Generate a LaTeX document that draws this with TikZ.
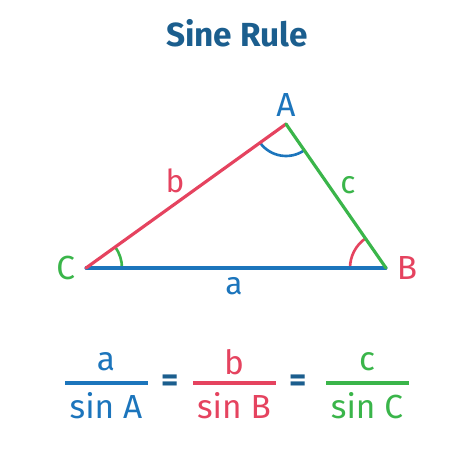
\documentclass[tikz,border=0pt]{standalone}
\usepackage{fontspec}
\setmainfont{Fira Sans}
\usepackage{xcolor}
\usetikzlibrary{positioning, angles, calc}
\definecolor{ruleTitle}{HTML}{1B5E8E}
\definecolor{ruleBlue}{HTML}{1C75BC}
\definecolor{ruleRed}{HTML}{E5435F}
\definecolor{ruleGreen}{HTML}{3AB54A}

\begin{document}
\begin{tikzpicture}[x=0.02cm, y=0.02cm, node distance=2pt]
        % Styles
        \tikzstyle{vertex} = [font=\fontsize{19}{22}\selectfont, inner sep=1pt]
        \tikzstyle{side} = [line width=1.8pt, line cap=round]
        \tikzstyle{sidelabel} = [font=\fontsize{18}{21}\selectfont, inner sep=1pt]
        \tikzstyle{anglemark} = [draw, line width=1.5pt, angle radius=0.72cm]
        \tikzstyle{term} = [font=\fontsize{19}{22}\selectfont, inner sep=1pt]
        \tikzstyle{bar} = [line width=1.8pt]

        \useasboundingbox (0,0) rectangle (474,474);

        % Title
        \node (title) [font=\bfseries\fontsize{19}{23}\selectfont, text=ruleTitle] at (237,441) {Sine Rule};

        % Triangle corners
        \coordinate (A) at (286,350);
        \coordinate (B) at (386,206);
        \coordinate (C) at (86,206);

        % Angle marks
        \pic [anglemark, ruleBlue, angle radius=0.64cm] {angle = C--A--B};
        \pic [anglemark, ruleRed] {angle = A--B--C};
        \pic [anglemark, ruleGreen] {angle = B--C--A};

        % Sides
        \draw [side, ruleBlue] (C) -- (B);
        \draw [side, ruleRed] (C) -- (A);
        \draw [side, ruleGreen] (A) -- (B);

        % Corner labels
        \node (lA) [vertex, text=ruleBlue, above=3pt of A] {A};
        \node (lB) [vertex, text=ruleRed, right=5pt of B] {B};
        \node (lC) [vertex, text=ruleGreen, left=5pt of C] {C};

        % Side labels
        \node (la) [sidelabel, text=ruleBlue] at (234,188) {a};
        \node (lb) [sidelabel, text=ruleRed] at (175,293) {b};
        \node (lc) [sidelabel, text=ruleGreen] at (348,289) {c};

        % Formula
        \node (na) [term, text=ruleBlue] at (106,112) {a};
        \node (da) [term, text=ruleBlue] at (106,68) {sin A};
        \draw [bar, ruleBlue] (65,91) -- (148,91);

        \node (eq1) [term, text=ruleTitle, font=\bfseries\fontsize{19}{22}\selectfont] at (170,91) {=};

        \node (nb) [term, text=ruleRed] at (234,112) {b};
        \node (db) [term, text=ruleRed] at (234,68) {sin B};
        \draw [bar, ruleRed] (193,91) -- (276,91);

        \node (eq2) [term, text=ruleTitle, font=\bfseries\fontsize{19}{22}\selectfont] at (298,91) {=};

        \node (nc) [term, text=ruleGreen] at (367,112) {c};
        \node (dc) [term, text=ruleGreen] at (367,68) {sin C};
        \draw [bar, ruleGreen] (326,91) -- (409,91);

    \end{tikzpicture}
\end{document}
